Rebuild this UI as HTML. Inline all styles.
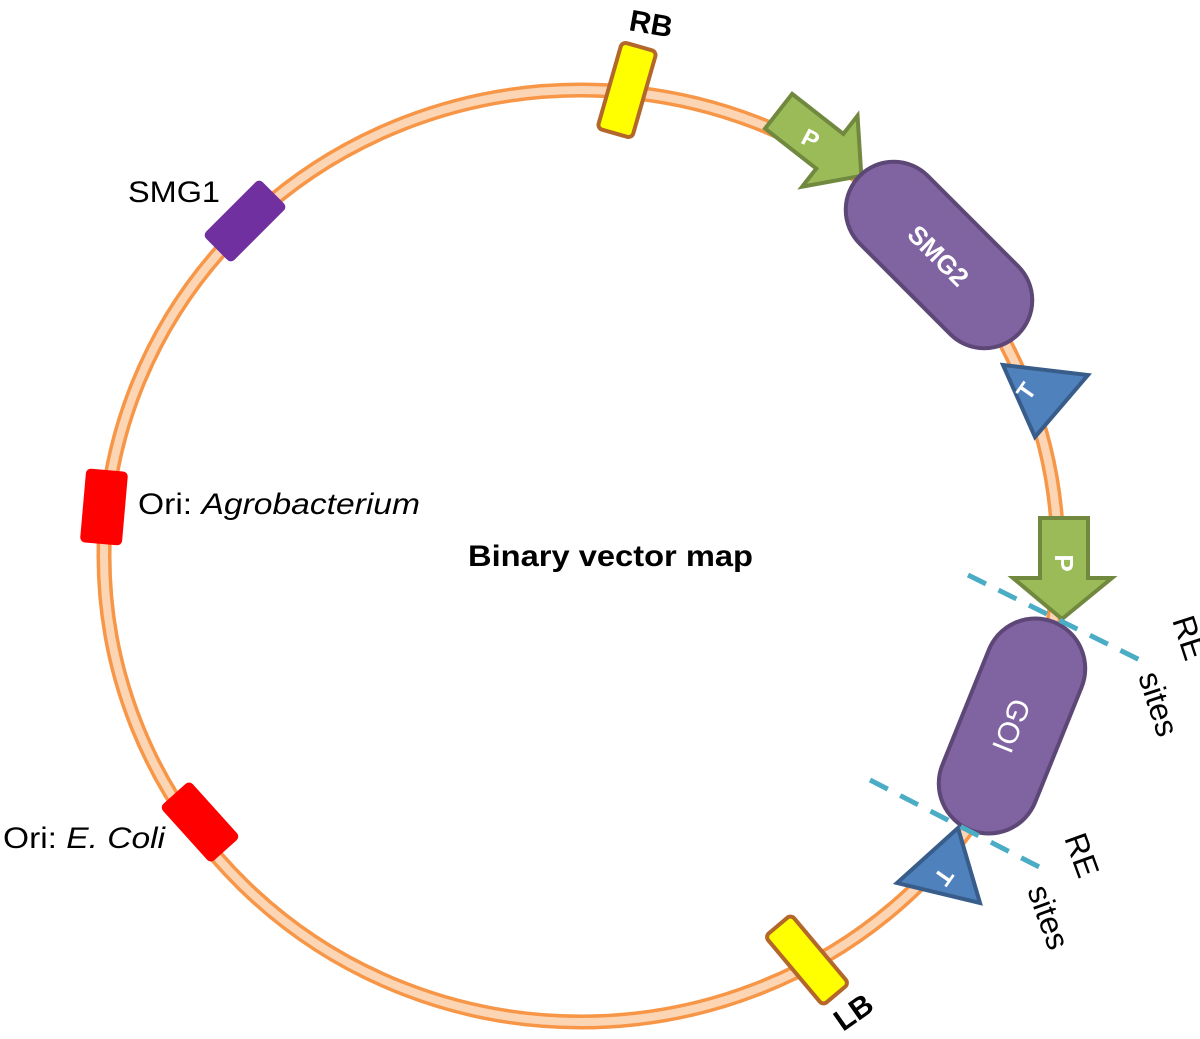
<!DOCTYPE html>
<html><head><meta charset="utf-8"><style>
html,body{margin:0;padding:0;background:#fff;}
svg{display:block;}
text{font-family:"Liberation Sans",sans-serif;}
</style></head><body>
<svg width="1200" height="1039" viewBox="0 0 1200 1039" xmlns="http://www.w3.org/2000/svg">
<ellipse cx="581" cy="556" rx="477" ry="466" fill="none" stroke="#F79646" stroke-width="15"/>
<ellipse cx="581" cy="556" rx="477" ry="466" fill="none" stroke="#FCD5B5" stroke-width="8"/>

<!-- RB -->
<rect x="-18" y="-45" width="36" height="90" rx="5" fill="#FFFF00" stroke="#B4672A" stroke-width="4" transform="translate(627,90) rotate(16)"/>
<text x="0" y="0" font-size="30" font-weight="bold" transform="translate(628,30) rotate(10)">RB</text>

<!-- P arrow top -->
<g transform="translate(818,142) rotate(38)">
<polygon points="-50,-22 15,-22 15,-45 55,0 15,45 15,22 -50,22" fill="#9BBB59" stroke="#71893F" stroke-width="4"/>
<text x="-8" y="9" font-size="24" font-weight="bold" fill="#fff" text-anchor="middle" transform="rotate(-10)">P</text>
</g>

<!-- SMG2 -->
<g transform="translate(939,255) rotate(45)">
<rect x="-112" y="-48" width="224" height="96" rx="48" fill="#8064A2" stroke="#5C4776" stroke-width="4"/>
<text x="0" y="10" font-size="26" font-weight="bold" fill="#fff" text-anchor="middle">SMG2</text>
</g>

<!-- T upper -->
<polygon points="1003,365 1088,375 1035,437" fill="#4F81BD" stroke="#385D8A" stroke-width="4"/>
<text x="0" y="0" font-size="24" font-weight="bold" fill="#fff" text-anchor="middle" transform="translate(1033,396) rotate(-55)">T</text>

<!-- P arrow down -->
<polygon points="1040,518 1088,518 1088,578 1112,578 1062,619 1013,578 1040,578" fill="#9BBB59" stroke="#71893F" stroke-width="4"/>
<text x="0" y="0" font-size="26" font-weight="bold" fill="#fff" text-anchor="middle" transform="translate(1055,563) rotate(90)">P</text>

<!-- GOI -->
<g transform="translate(1012,726) rotate(112)">
<rect x="-112" y="-50" width="224" height="100" rx="50" fill="#8064A2" stroke="#5C4776" stroke-width="4"/>
<text x="0" y="11" font-size="30" fill="#fff" text-anchor="middle">GOI</text>
</g>

<!-- T lower -->
<polygon points="897,883 958,828 980,903" fill="#4F81BD" stroke="#385D8A" stroke-width="4"/>
<text x="0" y="0" font-size="24" font-weight="bold" fill="#fff" text-anchor="middle" transform="translate(937,872) rotate(125)">T</text>

<!-- RE dashed lines -->
<line x1="968" y1="575" x2="1150" y2="665" stroke="#4BACC6" stroke-width="5" stroke-dasharray="20,14"/>
<line x1="870" y1="780" x2="1045" y2="870" stroke="#4BACC6" stroke-width="5" stroke-dasharray="20,14"/>
<g font-size="32" fill="#000">
<text transform="translate(1172,620) rotate(72)">RE</text>
<text transform="translate(1138,676) rotate(72)">sites</text>
<text transform="translate(1064,838) rotate(70)">RE</text>
<text transform="translate(1027,890) rotate(70)">sites</text>
</g>

<!-- LB -->
<rect x="-17" y="-45" width="34" height="90" rx="5" fill="#FFFF00" stroke="#B4672A" stroke-width="4" transform="translate(807,960) rotate(-40)"/>
<text x="0" y="0" font-size="30" font-weight="bold" transform="translate(843,1032) rotate(-35)">LB</text>

<!-- SMG1 -->
<rect x="-20" y="-40" width="40" height="80" rx="5" fill="#7030A0" transform="translate(245,221) rotate(45)"/>
<text x="128" y="202" font-size="30" textLength="92" lengthAdjust="spacingAndGlyphs">SMG1</text>

<!-- Ori Agro -->
<rect x="-21" y="-37" width="42" height="74" rx="5" fill="#FF0000" transform="translate(104,507) rotate(5)"/>
<text x="138" y="514" font-size="30" textLength="282" lengthAdjust="spacingAndGlyphs">Ori: <tspan font-style="italic">Agrobacterium</tspan></text>

<!-- Ori E. coli -->
<rect x="-20" y="-38" width="40" height="76" rx="5" fill="#FF0000" transform="translate(200,822) rotate(-42)"/>
<text x="3" y="848" font-size="30" textLength="162" lengthAdjust="spacingAndGlyphs">Ori: <tspan font-style="italic">E. Coli</tspan></text>

<text x="468" y="566" font-size="30" font-weight="bold" textLength="285" lengthAdjust="spacingAndGlyphs">Binary vector map</text>
</svg>
</body></html>
